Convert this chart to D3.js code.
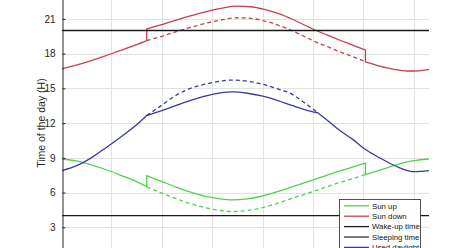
<!DOCTYPE html>
<html>
<head>
<meta charset="utf-8">
<script src="https://cdn.jsdelivr.net/npm/d3@7"></script>
<style>
    body { margin: 0; background: #fff; }
    svg { display: block; font-family: "Liberation Sans", Arial, sans-serif; }
</style>
</head>
<body>
<div id="chart"></div>
<script>
// day of the year -> clock time in hours; a repeated day marks a jump or kink
const sunUpDays  = [1, 15, 30, 45, 60, 75, 85, 85, 100, 115, 130, 145, 158, 170, 185, 199, 215, 230, 248, 262, 276, 290, 302, 302, 315, 329, 340, 352, 365];
const sunUpHours = [8.9, 8.74, 8.4, 7.97, 7.47, 6.95, 6.5, 7.45, 6.95, 6.45, 6.0, 5.65, 5.45, 5.36, 5.45, 5.68, 6.08, 6.52, 7.03, 7.45, 7.85, 8.22, 8.55, 7.57, 7.9, 8.3, 8.58, 8.78, 8.9];

const sunDownDays  = [1, 15, 30, 45, 60, 75, 85, 85, 100, 115, 130, 145, 160, 174, 188, 202, 216, 230, 245, 253, 265, 276, 290, 302, 302, 315, 330, 343, 355, 365];
const sunDownHours = [16.68, 17.0, 17.4, 17.84, 18.3, 18.78, 19.13, 20.13, 20.5, 20.92, 21.3, 21.65, 21.93, 22.1, 22.05, 21.82, 21.45, 20.95, 20.33, 20.0, 19.58, 19.18, 18.72, 18.3, 17.28, 16.95, 16.65, 16.5, 16.52, 16.65];

// same days without the summer time shift
const sunUpStdDays  = [85, 100, 115, 130, 145, 158, 170, 185, 199, 215, 230, 248, 262, 276, 290, 302];
const sunUpStdHours = [6.5, 5.95, 5.45, 5.0, 4.65, 4.45, 4.36, 4.45, 4.68, 5.08, 5.52, 6.03, 6.45, 6.85, 7.22, 7.55];

const sunDownStdDays  = [85, 100, 115, 130, 145, 160, 174, 188, 202, 216, 230, 245, 253, 265, 276, 290, 302];
const sunDownStdHours = [19.13, 19.5, 19.92, 20.3, 20.65, 20.93, 21.1, 21.05, 20.82, 20.45, 19.95, 19.33, 19.0, 18.58, 18.18, 17.72, 17.3];

const daylightDays  = [1, 15, 30, 45, 60, 75, 85, 85, 100, 115, 130, 145, 158, 170, 185, 199, 215, 230, 248, 255, 255, 266, 276, 290, 302, 315, 329, 340, 350, 365];
const daylightHours = [7.9, 8.3, 9.0, 9.9, 10.85, 11.85, 12.65, 12.65, 13.08, 13.55, 14.0, 14.38, 14.62, 14.7, 14.58, 14.35, 13.95, 13.5, 13.02, 12.88, 12.88, 12.12, 11.4, 10.55, 9.72, 9.05, 8.4, 8.0, 7.8, 7.89];

const daylightStdDays  = [85, 100, 115, 130, 145, 158, 170, 185, 199, 215, 228, 240, 255];
const daylightStdHours = [12.65, 13.55, 14.45, 15.05, 15.4, 15.62, 15.72, 15.62, 15.38, 14.95, 14.55, 13.85, 12.88];

const wakeUpTime = 4;
const sleepingTime = 20;

const hourTicks = [3, 6, 9, 12, 15, 18, 21];
const dayGrid = [50, 100, 150, 200, 250, 300, 350];

const legendLabels = ['Sun up', 'Sun down', 'Wake-up time', 'Sleeping time', 'Used daylight'];
const legendColors = ['#4fd34f', '#c8404c', '#1a1a1a', '#333333', '#3a3aa0'];

const width = 474, height = 248;

let svg = d3.select('#chart').append('svg')
    .attr('width', width)
    .attr('height', height)
;

let x = d3.scaleLinear().domain([1, 365]).range([62, 429]);
let y = d3.scaleLinear().domain([0, 24]).range([262, -15.8]);

// grid
let grid = svg.append('g').attr('stroke', '#e2e2e2').attr('stroke-width', 1);
grid.selectAll('.hgrid')
    .data(hourTicks)
    .enter()
    .append('line')
    .attr('x1', x(1)).attr('x2', x(365))
    .attr('y1', d => Math.round(y(d)) + 0.5)
    .attr('y2', d => Math.round(y(d)) + 0.5)
;
grid.selectAll('.vgrid')
    .data(dayGrid)
    .enter()
    .append('line')
    .attr('x1', d => Math.round(x(d)) + 0.5)
    .attr('x2', d => Math.round(x(d)) + 0.5)
    .attr('y1', y(24)).attr('y2', y(0))
;

// builds a smooth path, split where a day repeats (jump / kink)
function seriesPath(days, hours) {
    let pts = days.map((d, i) => [x(d), y(hours[i])]);
    let segs = [[pts[0]]];
    for (let i = 1; i < pts.length; i++) {
        if (days[i] === days[i - 1]) {
            segs.push([pts[i]]);
        } else {
            segs[segs.length - 1].push(pts[i]);
        }
    }
    let gen = d3.line().curve(d3.curveMonotoneX);
    return segs.map((s, i) => {
        let p = s.length > 1 ? gen(s) : 'M' + s[0][0] + ',' + s[0][1];
        return i === 0 ? p : 'L' + p.slice(1);
    }).join('');
}

function drawSeries(days, hours, color, dashed) {
    svg.append('path')
        .attr('d', seriesPath(days, hours))
        .attr('fill', 'none')
        .attr('stroke', color)
        .attr('stroke-width', 1.3)
        .attr('stroke-dasharray', dashed ? '4,3' : null)
    ;
}

drawSeries(sunDownStdDays, sunDownStdHours, legendColors[1], true);
drawSeries(sunUpStdDays, sunUpStdHours, legendColors[0], true);
drawSeries(daylightStdDays, daylightStdHours, legendColors[4], true);
drawSeries(sunDownDays, sunDownHours, legendColors[1], false);
drawSeries(sunUpDays, sunUpHours, legendColors[0], false);
drawSeries(daylightDays, daylightHours, legendColors[4], false);

// wake-up / sleeping lines
svg.selectAll('.hline')
    .data([wakeUpTime, sleepingTime])
    .enter()
    .append('line')
    .attr('x1', x(1)).attr('x2', x(365))
    .attr('y1', d => y(d)).attr('y2', d => y(d))
    .attr('stroke', '#1a1a1a')
    .attr('stroke-width', 1.3)
;

// y axis
let yAxis = svg.append('g')
    .attr('transform', `translate(${62.5}, 0)`)
    .call(d3.axisLeft(y).tickValues(hourTicks).tickSize(-3).tickSizeOuter(0).tickPadding(7))
;
yAxis.select('.domain').attr('stroke', '#262626');
yAxis.selectAll('.tick line').attr('stroke', '#262626');
yAxis.selectAll('.tick text')
    .attr('fill', '#262626')
    .style('font-size', '10px')
    .style('font-family', '"Liberation Sans", Arial, sans-serif')
;

svg.append('text')
    .attr('transform', `translate(${45}, ${y(12)}) rotate(-90)`)
    .style('text-anchor', 'middle')
    .style('font-size', '10.5px')
    .attr('fill', '#262626')
    .text('Time of the day (H)')
;

// legend
let legend = svg.append('g').attr('transform', 'translate(339.5, 199.5)');
legend.append('rect')
    .attr('width', 81)
    .attr('height', 60)
    .attr('fill', '#fff')
    .attr('stroke', '#262626')
    .attr('stroke-width', 0.8)
;
let rows = legend.selectAll('.row')
    .data(legendLabels)
    .enter()
    .append('g')
    .attr('transform', (d, i) => `translate(0, ${6.3 + i * 10.4})`)
;
rows.append('line')
    .attr('x1', 4.5).attr('x2', 29.5)
    .attr('stroke', (d, i) => legendColors[i])
    .attr('stroke-width', 1.3)
;
rows.append('text')
    .attr('x', 32.5)
    .attr('dy', '0.35em')
    .style('font-size', '7.8px')
    .attr('fill', '#111')
    .text(d => d)
;
</script>
</body>
</html>
